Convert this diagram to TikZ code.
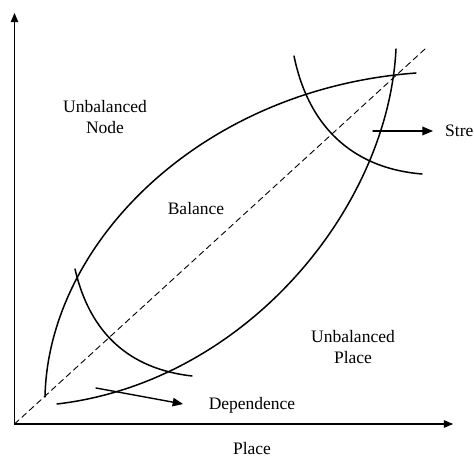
\documentclass[tikz,border=0pt]{standalone}
\usepackage{fontspec}
\setmainfont{Liberation Serif}
\usetikzlibrary{arrows}
\tikzset{
  curve/.style={line width=1.5pt},
  lbl/.style={font=\fontsize{17.5}{21}\selectfont,align=center,inner sep=0pt}
}
\begin{document}
\begin{tikzpicture}[line cap=round,line join=round,>=triangle 45,x=1pt,y=1pt]
\useasboundingbox (0,0) rectangle (474,474);
% axes
\coordinate (o) at (14.5,50);
\draw[->,line width=1.1pt] (o) -- (14.5,461);
\draw[->,line width=1.1pt] (o) -- (453,50);
\draw[dashed,line width=0.9pt,dash pattern=on 6pt off 4pt] (o) -- (425,425);
% the two curves of the balance region
\draw[curve] (45,77) .. controls (48,230) and (200,385) .. (416,401);
\draw[curve] (57,70) .. controls (245,92) and (388,265) .. (396,425);
% arcs
\draw[curve] (294,418) .. controls (310,340) and (360,305) .. (422,300);
\draw[curve] (75,205) .. controls (90,140) and (130,105) .. (192,98);
% labels
\node[lbl] (unode) at (105,357) {Unbalanced\\Node};
\node[lbl] (bal) at (196,265) {Balance};
\node[lbl] (uplace) at (353,127) {Unbalanced\\Place};
\node[lbl] (dep) at (252,69) {Dependence};
\node[lbl] (place) at (252,25) {Place};
\node[lbl,anchor=west] (stre) at (445,343) {Stre};
% arrows
\coordinate (sa) at (373,343);
\coordinate (sb) at (433,343);
\draw[->,line width=1.5pt] (sa) -- (sb);
\coordinate (da) at (96,86);
\coordinate (db) at (183,70);
\draw[->,line width=1.4pt] (da) -- (db);
\end{tikzpicture}
\end{document}
